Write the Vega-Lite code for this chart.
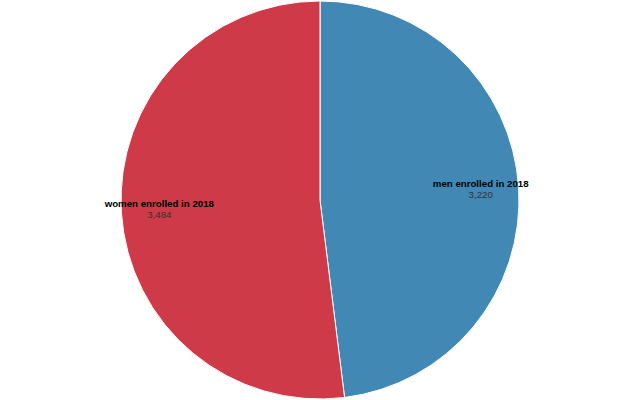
{
  "$schema": "https://vega.github.io/schema/vega-lite/v6.json",
  "width": 640,
  "height": 400,
  "padding": 0,
  "autosize": {"type": "fit", "contains": "padding"},
  "background": "white",
  "view": {"stroke": null},
  "data": {"values": [
    {"category": "men enrolled in 2018", "value": 3220},
    {"category": "women enrolled in 2018", "value": 3484}
  ]},
  "encoding": {
    "theta": {"field": "value", "type": "quantitative", "stack": true},
    "order": {"field": "category", "type": "nominal"}
  },
  "layer": [
    {
      "mark": {"type": "arc", "outerRadius": 199, "stroke": "white", "strokeWidth": 1},
      "encoding": {
        "color": {"field": "category", "type": "nominal",
          "scale": {"domain": ["men enrolled in 2018", "women enrolled in 2018"], "range": ["#4188b5", "#cf3a48"]},
          "legend": null}
      }
    },
    {
      "mark": {"type": "text", "radius": 161, "dy": -6, "font": "Liberation Sans", "fontSize": 9.7, "fontWeight": "bold", "fill": "black"},
      "encoding": {"text": {"field": "category"}}
    },
    {
      "mark": {"type": "text", "radius": 161, "dy": 5, "font": "Liberation Sans", "fontSize": 9.7, "fill": "#333333"},
      "encoding": {"text": {"field": "value", "type": "quantitative", "format": ","}}
    }
  ]
}
